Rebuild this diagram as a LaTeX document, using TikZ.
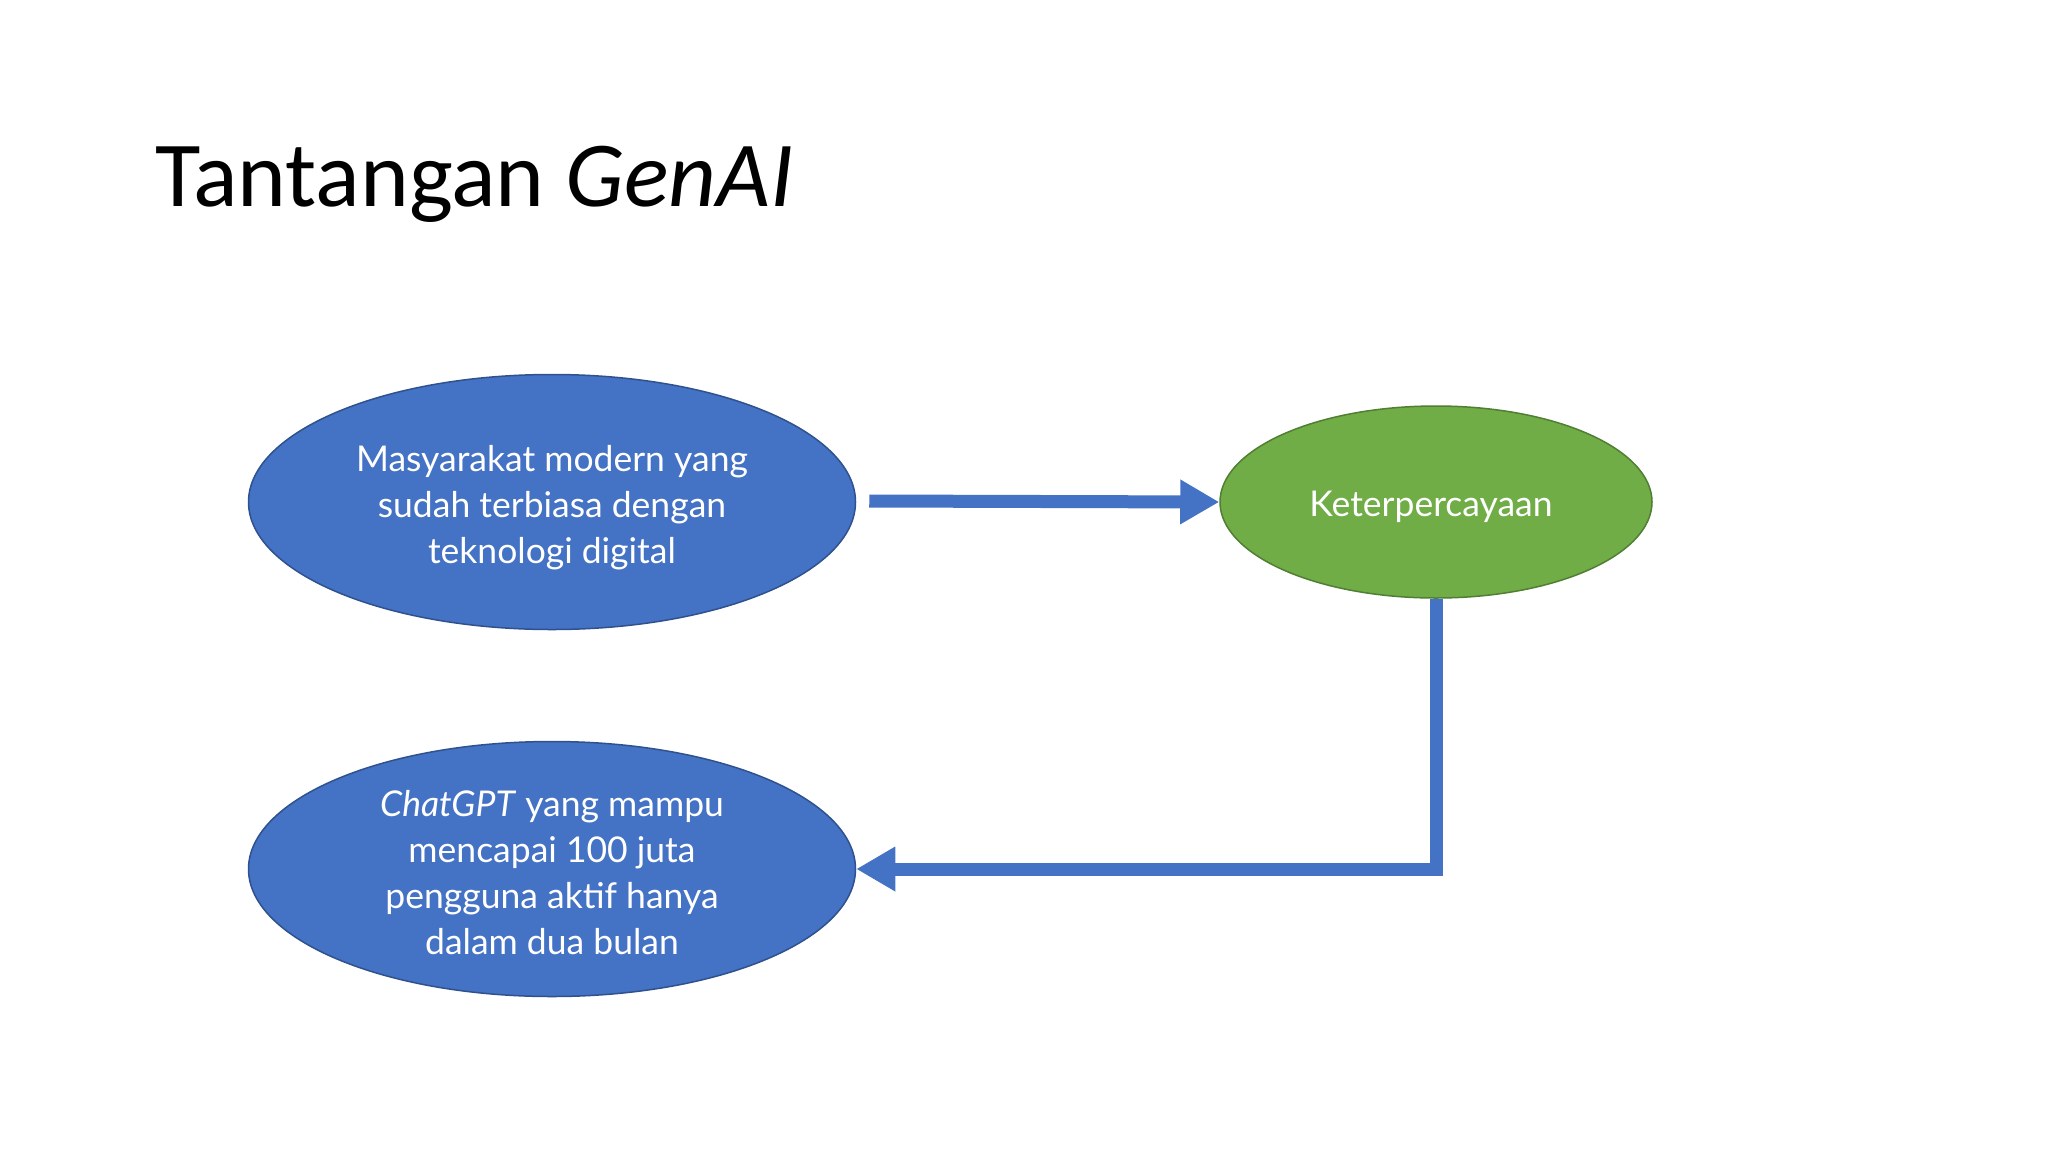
\documentclass[tikz,border=0pt]{standalone}
\usepackage{fontspec}
\setmainfont{Lato}
\newfontfamily\titlefont{Carlito}
\usetikzlibrary{arrows.meta,shapes.geometric}
\definecolor{bluefill}{HTML}{4472C4}
\definecolor{blueline}{HTML}{2F528F}
\definecolor{greenfill}{HTML}{70AD47}
\definecolor{greenline}{HTML}{507E32}
\tikzset{
  blueoval/.style={ellipse, fill=bluefill, draw=blueline, line width=1.5pt,
    minimum width=607pt, minimum height=255pt, inner sep=0pt},
  greenoval/.style={ellipse, fill=greenfill, draw=greenline, line width=1.5pt,
    minimum width=432pt, minimum height=192pt, inner sep=0pt},
  ovaltext/.style={inner sep=0pt, text=white, align=center,
    font=\fontsize{35.5}{46}\selectfont},
  flowarrow/.style={draw=bluefill, line width=13pt,
    -{Triangle[length=39pt,width=42pt]}},
}
\begin{document}
\begin{tikzpicture}[x=1pt,y=-1pt]
\useasboundingbox[fill=white] (0,0) rectangle (2048,1152);
\node[anchor=base west, inner sep=0pt, font=\titlefont\fontsize{93}{112}\selectfont] (title) at (155,206) {Tantangan \textit{GenAI}};
\node[blueoval] (e1) at (552,502) {};
\node[ovaltext] (t1) at ([yshift=-6pt]e1.center) {Masyarakat modern yang\\sudah terbiasa dengan\\teknologi digital};
\node[greenoval] (g) at (1436,502) {};
\node[ovaltext] (tg) at ([xshift=-5pt,yshift=-5pt]g.center) {Keterpercayaan};
\node[blueoval] (e2) at (552,869) {};
\node[ovaltext] (t2) at ([yshift=-4pt]e2.center) {\textit{ChatGPT} yang mampu\\mencapai 100 juta\\pengguna aktif hanya\\dalam dua bulan};
\draw[flowarrow] ([xshift=13pt,yshift=1pt]e1.east) -- (g.west);
\draw[flowarrow] (g.south) |- (e2.east);
\end{tikzpicture}
\end{document}
